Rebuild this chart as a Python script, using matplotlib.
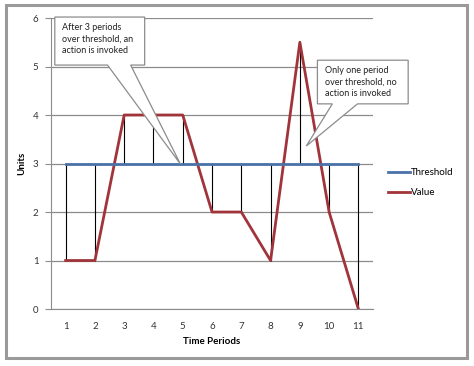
import matplotlib.pyplot as plt
from matplotlib.patches import Polygon, Rectangle

periods = [1, 2, 3, 4, 5, 6, 7, 8, 9, 10, 11]
threshold = [3, 3, 3, 3, 3, 3, 3, 3, 3, 3, 3]
value = [1, 1, 4, 4, 4, 2, 2, 1, 5.5, 2, 0]

note1 = "After 3 periods\nover threshold, an\naction is invoked"
note2 = "Only one period\nover threshold, no\naction is invoked"

plt.rcParams['font.family'] = ['Lato', 'DejaVu Sans']

fig = plt.figure(figsize=(4.74, 3.66), dpi=100)
ax = fig.add_axes([0.1076, 0.1557, 0.787 - 0.1076, 0.9508 - 0.1557])

# outer chart frame
fig.patches.append(Rectangle((0.012, 0.022), 0.973, 0.963, transform=fig.transFigure,
                             fill=False, edgecolor='#9a9a9a', linewidth=2.2))

# high-low lines between the two series
ax.vlines(periods, [min(a, b) for a, b in zip(threshold, value)],
          [max(a, b) for a, b in zip(threshold, value)], color='black', linewidth=0.8, zorder=2)
ax.plot(periods, value, color='#a0343a', linewidth=2, label='Value', zorder=3)
ax.plot(periods, threshold, color='#4a72a8', linewidth=2, label='Threshold', zorder=4)

ax.set_xlim(0.5, 11.5)
ax.set_ylim(0, 6)
ax.set_xticks(periods)
ax.set_yticks(range(7))
ax.yaxis.grid(True, color='#8c8c8c', linewidth=0.9)
ax.set_axisbelow(True)
for s in ['top', 'right']:
    ax.spines[s].set_visible(False)
ax.spines['left'].set_color('#8c8c8c')
ax.spines['bottom'].set_color('#8c8c8c')
ax.tick_params(axis='x', length=0, pad=9, labelsize=7, colors='#333333')
ax.tick_params(axis='y', length=4, color='#8c8c8c', pad=5, labelsize=7, colors='#333333')
ax.set_xlabel('Time Periods', fontsize=7, fontweight='bold', labelpad=5)
ax.set_ylabel('Units', fontsize=7, fontweight='bold', labelpad=5)

# callouts
call1 = [(0.63, 6.02), (3.70, 6.02), (3.70, 5.03), (3.22, 5.03), (4.92, 2.99),
         (2.43, 5.03), (0.63, 5.03)]
call2 = [(9.60, 5.13), (12.7, 5.13), (12.7, 4.23), (10.97, 4.23), (9.22, 3.36),
         (10.11, 4.23), (9.60, 4.23)]
for pts, txt in [(call1, note1), (call2, note2)]:
    ax.add_patch(Polygon(pts, closed=True, facecolor='white', edgecolor='#8c8c8c',
                         linewidth=0.9, zorder=6, clip_on=False))
    ax.text(pts[0][0] + 0.25, pts[0][1] - 0.12, txt, fontsize=6.5, va='top', ha='left',
            linespacing=1.35, color='#222222', zorder=7, clip_on=False)

h, l = ax.get_legend_handles_labels()
fig.legend(h[::-1], l[::-1], loc='upper left', bbox_to_anchor=(0.80, 0.565), frameon=False,
           fontsize=7, handlelength=2.3, handletextpad=0.1, labelspacing=1.15)

fig.savefig('out.png', dpi=100)
